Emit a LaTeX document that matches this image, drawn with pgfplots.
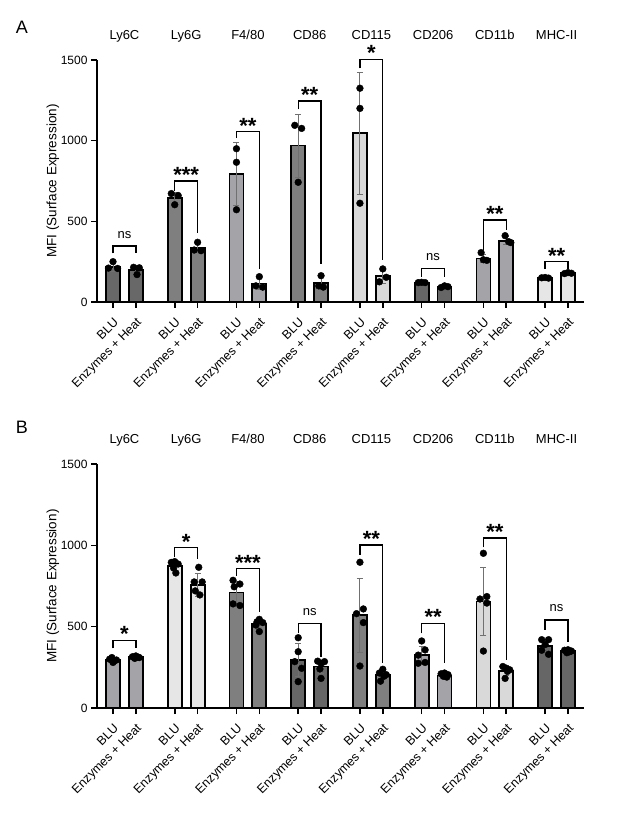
\documentclass[border=0pt]{standalone}
\usepackage{pgfplots}
\pgfplotsset{compat=1.18}
\usepackage{fontspec}
\setmainfont{Liberation Sans}
\definecolor{gA}{HTML}{686868}
\definecolor{gB}{HTML}{7F7F7F}
\definecolor{gC}{HTML}{A3A3A8}
\definecolor{gD}{HTML}{D9D9D9}
\definecolor{gE}{HTML}{E6E6E6}
\definecolor{gF}{HTML}{666666}
\definecolor{ebar}{HTML}{707070}
\pgfplotsset{
  myaxis/.style={width=487pt, height=242pt, scale only axis,
    xmin=-0.7, xmax=20.6, ymin=0, ymax=1500,
    axis x line=bottom, axis y line=left,
    axis line style={line width=1.8pt, -},
    ytick={0,500,1000,1500},
    xtick={0,1,2.7,3.7,5.4,6.4,8.1,9.1,10.8,11.8,13.5,14.5,16.2,17.2,18.9,19.9},
    xticklabels={BLU,Enzymes + Heat,BLU,Enzymes + Heat,BLU,Enzymes + Heat,BLU,Enzymes + Heat,BLU,Enzymes + Heat,BLU,Enzymes + Heat,BLU,Enzymes + Heat,BLU,Enzymes + Heat},
    tick align=outside, major tick length=6pt,
    tick style={line width=1.6pt, black},
    clip=false,
    xticklabel shift=4pt,
    xticklabel style={rotate=45, anchor=north east, font=\fontsize{12.5}{12.5}\selectfont},
    yticklabel style={font=\fontsize{12}{12}\selectfont},
    /pgf/number format/assume math mode=true,
    /pgf/number format/set thousands separator={},
  },
  mybar/.style={ybar, bar shift=0pt, bar width=14pt, draw=black, line width=1.8pt,
    error bars/y dir=both, error bars/y explicit,
    error bars/error bar style={line width=0.9pt, color=ebar},
    error bars/error mark options={rotate=90, mark size=3pt, line width=0.9pt, color=ebar}},
  dots/.style={only marks, mark=*, mark size=3.4pt, black, mark options={fill=black}},
}
\tikzset{
  star/.style={font=\bfseries\fontsize{22}{22}\selectfont, anchor=base, yshift=-12.5pt, inner sep=0pt},
  nsl/.style={font=\fontsize{13}{13}\selectfont, anchor=base, yshift=-3.4pt, inner sep=0pt},
  grp/.style={font=\fontsize{13}{13}\selectfont, anchor=base, yshift=-4.65pt, inner sep=0pt},
  br/.style={line width=1.3pt, black},
  ylab/.style={rotate=90, yshift=44pt, font=\fontsize{13.5}{13.5}\selectfont},
}
\begin{document}
\begin{tikzpicture}
\path[use as bounding box] (0pt,0pt) rectangle (637pt,821pt);
\node[font=\fontsize{18}{18}\selectfont] at (22pt,794pt) {A};
\node[font=\fontsize{18}{18}\selectfont] at (22pt,394pt) {B};
% ---------------- Panel A ----------------
\begin{axis}[myaxis, at={(97pt,519pt)}, anchor=south west]
\addplot[mybar, fill=gA] coordinates {(0,215) +- (0,25) (1,200) +- (0,25)};
\addplot[mybar, fill=gB] coordinates {(2.7,645) +- (0,35) (3.7,337) +- (0,30)};
\addplot[mybar, fill=gC] coordinates {(5.4,795) +- (0,195) (6.4,115) +- (0,40)};
\addplot[mybar, fill=gB] coordinates {(8.1,970) +- (0,195) (9.1,118) +- (0,40)};
\addplot[mybar, fill=gD] coordinates {(10.8,1045) +- (0,380) (11.8,160) +- (0,45)};
\addplot[mybar, fill=gF] coordinates {(13.5,120) +- (0,4) (14.5,95) +- (0,8)};
\addplot[mybar, fill=gC] coordinates {(16.2,270) +- (0,25) (17.2,380) +- (0,25)};
\addplot[mybar, fill=gE] coordinates {(18.9,150) +- (0,5) (19.9,178) +- (0,6)};
\addplot[dots] coordinates {
(0,250) (-0.2,210) (0.2,208)
(0.9,215) (1.15,212) (1.05,170)
(2.55,672) (2.85,660) (2.7,603)
(3.7,370) (3.55,322) (3.85,318)
(5.4,950) (5.4,866) (5.4,572)
(6.4,157) (6.25,100) (6.55,92)
(7.95,1095) (8.25,1076) (8.1,742)
(9.1,163) (9.0,100) (9.2,92)
(10.8,1325) (10.8,1200) (10.8,612)
(11.8,205) (11.65,125) (11.95,153)
(13.35,120) (13.5,122) (13.65,120)
(14.35,90) (14.5,100) (14.65,95)
(16.1,306) (16.2,262) (16.35,258)
(17.15,411) (17.3,374) (17.4,368)
(18.75,150) (18.9,152) (19.05,148)
(19.75,176) (19.9,182) (20.05,178)
};
% brackets
\draw[br] (axis cs:0,302) -- (axis cs:0,347) -- (axis cs:1,347) -- (axis cs:1,302);
\draw[br] (axis cs:2.7,690) -- (axis cs:2.7,750) -- (axis cs:3.7,750) -- (axis cs:3.7,426);
\draw[br] (axis cs:5.4,1015) -- (axis cs:5.4,1056) -- (axis cs:6.4,1056) -- (axis cs:6.4,203);
\draw[br] (axis cs:8.1,1194) -- (axis cs:8.1,1246) -- (axis cs:9.1,1246) -- (axis cs:9.1,235);
\draw[br] (axis cs:10.8,1448) -- (axis cs:10.8,1504) -- (axis cs:11.8,1504) -- (axis cs:11.8,260);
\draw[br] (axis cs:13.5,157) -- (axis cs:13.5,209) -- (axis cs:14.5,209) -- (axis cs:14.5,157);
\draw[br] (axis cs:16.2,322) -- (axis cs:16.2,508) -- (axis cs:17.2,508) -- (axis cs:17.2,446);
\draw[br] (axis cs:18.9,203) -- (axis cs:18.9,250) -- (axis cs:19.9,250) -- (axis cs:19.9,203);
\node[nsl] at (axis cs:0.5,415) {ns};
\node[star] at (axis cs:3.2,818) {***};
\node[star] at (axis cs:5.9,1122) {**};
\node[star] at (axis cs:8.6,1314) {**};
\node[star] at (axis cs:11.3,1572) {*};
\node[nsl] at (axis cs:14.0,281) {ns};
\node[star] at (axis cs:16.7,576) {**};
\node[star] at (axis cs:19.4,316) {**};
% group labels
\node[grp] at (axis cs:0.5,1655) {Ly6C};
\node[grp] at (axis cs:3.2,1655) {Ly6G};
\node[grp] at (axis cs:5.9,1655) {F4/80};
\node[grp] at (axis cs:8.6,1655) {CD86};
\node[grp] at (axis cs:11.3,1655) {CD115};
\node[grp] at (axis cs:14.0,1655) {CD206};
\node[grp] at (axis cs:16.7,1655) {CD11b};
\node[grp] at (axis cs:19.4,1655) {MHC-II};
\node[ylab] at (rel axis cs:0,0.5) {MFI (Surface Expression)};
\end{axis}
% ---------------- Panel B ----------------
\begin{axis}[myaxis, height=244pt, at={(97pt,113pt)}, anchor=south west]
\addplot[mybar, fill=gC] coordinates {(0,295) +- (0,15) (1,312) +- (0,12)};
\addplot[mybar, fill=gE] coordinates {(2.7,875) +- (0,30) (3.7,755) +- (0,70)};
\addplot[mybar, fill=gB] coordinates {(5.4,710) +- (0,65) (6.4,520) +- (0,25)};
\addplot[mybar, fill=gF] coordinates {(8.1,295) +- (0,100) (9.1,255) +- (0,40)};
\addplot[mybar, fill=gB] coordinates {(10.8,570) +- (0,228) (11.8,205) +- (0,25)};
\addplot[mybar, fill=gC] coordinates {(13.5,325) +- (0,55) (14.5,200) +- (0,15)};
\addplot[mybar, fill=gD] coordinates {(16.2,655) +- (0,212) (17.2,225) +- (0,25)};
\addplot[mybar, fill=gF] coordinates {(18.9,380) +- (0,35) (19.9,350) +- (0,8)};
\addplot[dots] coordinates {
(-0.15,300) (-0.05,310) (0.05,290) (0.15,295) (0,280)
(0.85,315) (1,320) (1.15,310) (0.95,305) (1.1,312)
(2.55,895) (2.7,900) (2.85,885) (2.65,860) (2.75,830)
(3.75,865) (3.55,775) (3.9,775) (3.6,720) (3.8,695)
(5.25,785) (5.55,762) (5.3,745) (5.25,640) (5.55,630)
(6.4,545) (6.3,530) (6.55,525) (6.25,510) (6.4,470)
(8.1,432) (8.1,346) (7.95,285) (8.25,244) (8.1,162)
(8.95,288) (9.25,285) (9.1,275) (9.05,240) (9.1,182)
(10.8,896) (10.65,580) (10.95,609) (10.95,525) (10.8,258)
(11.8,238) (11.65,215) (11.95,205) (11.85,195) (11.7,165)
(13.5,412) (13.65,357) (13.35,325) (13.35,275) (13.65,280)
(14.35,210) (14.5,215) (14.65,205) (14.45,195) (14.6,190)
(16.2,951) (16.05,670) (16.35,685) (16.35,645) (16.2,350)
(17.05,255) (17.2,245) (17.35,235) (17.25,225) (17.15,182)
(18.75,420) (19.05,420) (18.9,390) (18.75,355) (19.05,330)
(19.75,355) (19.9,358) (20.05,350) (19.95,345) (19.85,340)
};
\draw[br] (axis cs:0,367) -- (axis cs:0,414) -- (axis cs:1,414) -- (axis cs:1,367);
\draw[br] (axis cs:2.7,930) -- (axis cs:2.7,985) -- (axis cs:3.7,985) -- (axis cs:3.7,914);
\draw[br] (axis cs:5.4,811) -- (axis cs:5.4,859) -- (axis cs:6.4,859) -- (axis cs:6.4,592);
\draw[br] (axis cs:8.1,459) -- (axis cs:8.1,521) -- (axis cs:9.1,521) -- (axis cs:9.1,316);
\draw[br] (axis cs:10.8,941) -- (axis cs:10.8,1002) -- (axis cs:11.8,1002) -- (axis cs:11.8,275);
\draw[br] (axis cs:13.5,459) -- (axis cs:13.5,521) -- (axis cs:14.5,521) -- (axis cs:14.5,275);
\draw[br] (axis cs:16.2,988) -- (axis cs:16.2,1045) -- (axis cs:17.2,1045) -- (axis cs:17.2,295);
\draw[br] (axis cs:18.9,480) -- (axis cs:18.9,541) -- (axis cs:19.9,541) -- (axis cs:19.9,408);
\node[star] at (axis cs:0.5,484) {*};
\node[star] at (axis cs:3.2,1049) {*};
\node[star] at (axis cs:5.9,924) {***};
\node[nsl] at (axis cs:8.6,592) {ns};
\node[star] at (axis cs:11.3,1070) {**};
\node[star] at (axis cs:14.0,588) {**};
\node[star] at (axis cs:16.7,1115) {**};
\node[nsl] at (axis cs:19.4,612) {ns};
\node[grp] at (axis cs:0.5,1654) {Ly6C};
\node[grp] at (axis cs:3.2,1654) {Ly6G};
\node[grp] at (axis cs:5.9,1654) {F4/80};
\node[grp] at (axis cs:8.6,1654) {CD86};
\node[grp] at (axis cs:11.3,1654) {CD115};
\node[grp] at (axis cs:14.0,1654) {CD206};
\node[grp] at (axis cs:16.7,1654) {CD11b};
\node[grp] at (axis cs:19.4,1654) {MHC-II};
\node[ylab] at (rel axis cs:0,0.5) {MFI (Surface Expression)};
\end{axis}
\end{tikzpicture}
\end{document}
